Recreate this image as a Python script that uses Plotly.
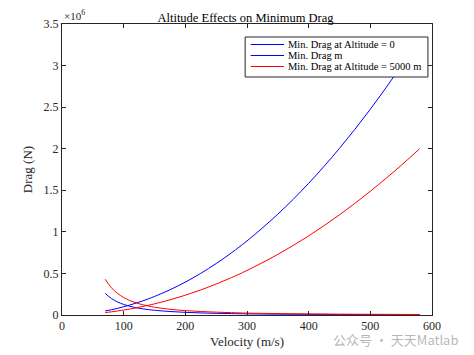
import plotly.graph_objects as go

velocity = [70, 80, 90, 100, 110, 120, 130, 140, 150, 175, 200, 225, 250, 275, 300, 350, 400, 450, 500, 550, 580]

# Drag values in N
blue_up = [0.049e6, 0.063e6, 0.080e6, 0.099e6, 0.120e6, 0.143e6, 0.167e6, 0.194e6, 0.223e6, 0.303e6, 0.396e6, 0.501e6,
           0.619e6, 0.749e6, 0.891e6, 1.213e6, 1.584e6, 2.005e6, 2.475e6, 2.995e6, 3.330e6]
blue_down = [0.260e6, 0.199e6, 0.157e6, 0.127e6, 0.105e6, 0.088e6, 0.075e6, 0.065e6, 0.057e6, 0.042e6, 0.032e6, 0.025e6,
             0.020e6, 0.017e6, 0.014e6, 0.010e6, 0.008e6, 0.006e6, 0.005e6, 0.004e6, 0.0038e6]
red_up = [0.029e6, 0.038e6, 0.048e6, 0.060e6, 0.072e6, 0.086e6, 0.101e6, 0.117e6, 0.134e6, 0.182e6, 0.238e6, 0.301e6,
          0.372e6, 0.450e6, 0.536e6, 0.729e6, 0.952e6, 1.205e6, 1.488e6, 1.800e6, 2.000e6]
red_down = [0.430e6, 0.329e6, 0.260e6, 0.211e6, 0.174e6, 0.146e6, 0.125e6, 0.108e6, 0.094e6, 0.069e6, 0.053e6, 0.042e6,
            0.034e6, 0.028e6, 0.023e6, 0.017e6, 0.013e6, 0.010e6, 0.0084e6, 0.0070e6, 0.0063e6]

legend_labels = ["Min. Drag at Altitude = 0", "Min. Drag m", "Min. Drag at Altitude = 5000 m"]
legend_colors = ["#0000ff", "#0000ff", "#ff0000"]

y_tickvals = [0, 0.5e6, 1e6, 1.5e6, 2e6, 2.5e6, 3e6, 3.5e6]
y_ticktext = ["0", "0.5", "1", "1.5", "2", "2.5", "3", "3.5"]
x_tickvals = [0, 100, 200, 300, 400, 500, 600]

FONT = "Liberation Serif, Times New Roman, serif"
AX = "#262626"
W, H = 474, 355
ML, MR, MT, MB = 62, 42, 24, 40
PH = H - MT - MB


def py(pix):
    """pixel row -> paper y"""
    return (H - MB - pix) / PH


fig = go.Figure()
fig.add_trace(go.Scatter(x=velocity, y=blue_up, mode="lines", line=dict(color="#0000ff", width=1, shape="spline"),
                         name=legend_labels[0]))
fig.add_trace(go.Scatter(x=velocity, y=blue_down, mode="lines", line=dict(color="#0000ff", width=1, shape="spline"),
                         name=legend_labels[1]))
fig.add_trace(go.Scatter(x=velocity, y=red_up, mode="lines", line=dict(color="#ff0000", width=1, shape="spline"),
                         name=legend_labels[2]))
fig.add_trace(go.Scatter(x=velocity, y=red_down, mode="lines", line=dict(color="#ff0000", width=1, shape="spline"),
                         name="induced 5000"))

fig.update_layout(
    width=W, height=H,
    margin=dict(l=ML, r=MR, t=MT, b=MB),
    paper_bgcolor="white", plot_bgcolor="white",
    font=dict(family=FONT, size=12, color=AX),
    title=dict(text="Altitude Effects on Minimum Drag", x=0.518, xanchor="center", y=1 - 17.5 / H,
               yanchor="middle", font=dict(family=FONT, size=12.5, color="black")),
    showlegend=False,
    xaxis=dict(range=[0, 600], tickvals=x_tickvals, ticks="inside", ticklen=4, showgrid=False, zeroline=False,
               showline=True, linecolor=AX, linewidth=1, mirror="ticks", tickcolor=AX, automargin=False,
               title=dict(text="Velocity (m/s)", standoff=4, font=dict(family=FONT, size=13, color=AX))),
    yaxis=dict(range=[0, 3.5e6], tickvals=y_tickvals, ticktext=y_ticktext, ticks="inside", ticklen=4,
               showgrid=False, zeroline=False, showline=True, linecolor=AX, linewidth=1, mirror="ticks",
               tickcolor=AX, automargin=False,
               title=dict(text="Drag (N)", standoff=8, font=dict(family=FONT, size=13, color=AX))),
)

# Custom compact legend box (MATLAB style)
lx0, lx1 = 0.495, 0.989
fig.add_shape(type="rect", xref="paper", yref="paper", x0=lx0, x1=lx1, y0=py(77), y1=py(37),
              line=dict(color=AX, width=1), fillcolor="white", layer="above")
for i, (lab, col) in enumerate(zip(legend_labels, legend_colors)):
    yc = py(44.5 + 11 * i)
    fig.add_shape(type="line", xref="paper", yref="paper", x0=lx0 + 0.015, x1=lx0 + 0.105, y0=yc, y1=yc,
                  line=dict(color=col, width=1), layer="above")
    fig.add_annotation(x=lx0 + 0.111, y=yc, xref="paper", yref="paper", text=lab, showarrow=False,
                       xanchor="left", yanchor="middle", font=dict(family=FONT, size=10.5, color="black"))

fig.add_annotation(x=0, y=1.0, xref="paper", yref="paper", text="×10<sup>6</sup>", showarrow=False,
                   xanchor="left", yanchor="bottom", font=dict(family=FONT, size=11, color=AX))
fig.add_annotation(x=1.0, y=0, xref="paper", yref="paper", xshift=28, yshift=-24, text="公众号 · 天天Matlab",
                   showarrow=False, xanchor="right", yanchor="middle",
                   font=dict(family="Noto Sans CJK SC", size=13, color="rgba(150,150,150,0.7)"))

fig.write_html("out.html", post_script="document.body.style.margin='0';",
               config={"displayModeBar": False})
